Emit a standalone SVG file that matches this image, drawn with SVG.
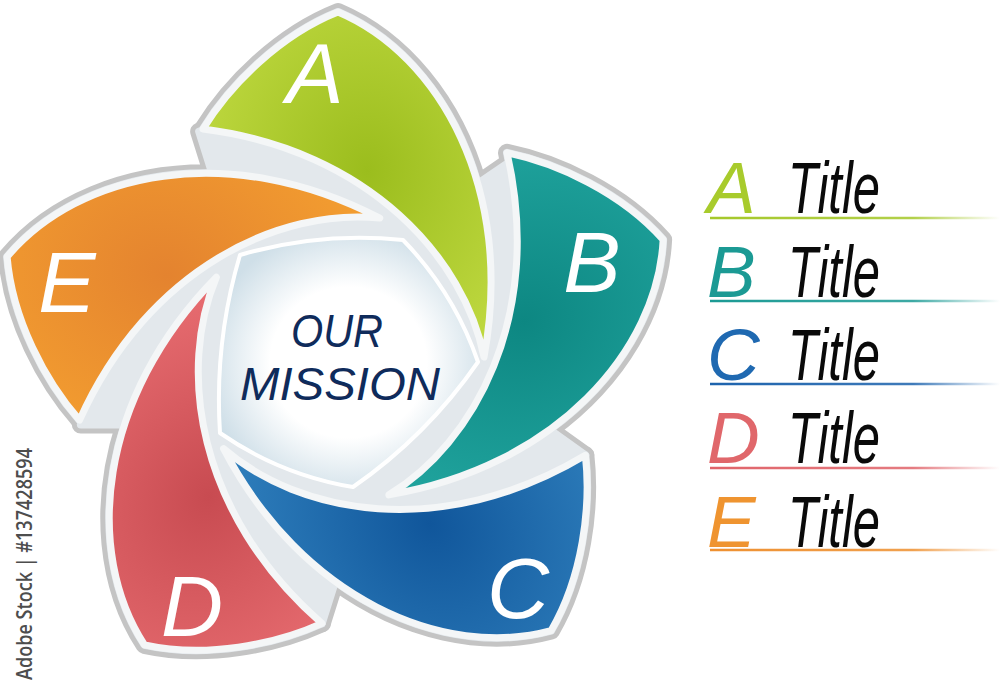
<svg xmlns="http://www.w3.org/2000/svg" width="1000" height="683" viewBox="0 0 1000 683">
<style>
.scr{font-family:"Liberation Sans","Noto Sans",sans-serif;font-style:italic;}
.pl{fill:#ffffff;font-size:86px;text-anchor:middle;}
.lg{font-size:73px;}
.tt{fill:#0a0a0a;}
.hullg{fill:#c4c4c4;stroke:#c4c4c4;stroke-width:18;stroke-linejoin:round;}
.hulll{fill:#e3e8ec;stroke:#e3e8ec;stroke-width:8;stroke-linejoin:round;}
.pet{stroke:#f4f6f7;stroke-width:7;stroke-linejoin:round;}
.ul{stroke-width:2.5;fill:none;}
</style>
<defs>
<path id="petal" d="M484,357 C465,260 370,150 203,129 C230,85 280,35 338,12 C440,55 515,190 484,357 Z"/>
<path id="hull" d="M203,129 C230,85 280,35 338,12 C401.2,38.7 454.1,100.7 477.8,183.8 L514,159 C545.7,324.1 470.4,448.5 384,496 L484,357 C465,260 370,150 203,129 Z"/>
<radialGradient id="gA" cx="0.57" cy="0.46" r="0.6"><stop offset="0" stop-color="#9bbd1d"/><stop offset="1" stop-color="#bdd73e"/></radialGradient>
<radialGradient id="gB" cx="0.57" cy="0.46" r="0.6"><stop offset="0" stop-color="#0d8782"/><stop offset="1" stop-color="#1fa29c"/></radialGradient>
<radialGradient id="gC" cx="0.57" cy="0.46" r="0.6"><stop offset="0" stop-color="#10569b"/><stop offset="1" stop-color="#2c7bb9"/></radialGradient>
<radialGradient id="gD" cx="0.57" cy="0.46" r="0.6"><stop offset="0" stop-color="#c84b51"/><stop offset="1" stop-color="#e56a6e"/></radialGradient>
<radialGradient id="gE" cx="0.57" cy="0.46" r="0.6"><stop offset="0" stop-color="#e4832f"/><stop offset="1" stop-color="#f29c30"/></radialGradient>
<radialGradient id="gc" cx="0.5" cy="0.5" r="0.55"><stop offset="0.55" stop-color="#ffffff"/><stop offset="1" stop-color="#cfdfe8"/></radialGradient>
<linearGradient id="uA" gradientUnits="userSpaceOnUse" x1="710" y1="0" x2="1000" y2="0"><stop offset="0" stop-color="#a5c82a"/><stop offset="0.7" stop-color="#a5c82a" stop-opacity="0.85"/><stop offset="1" stop-color="#a5c82a" stop-opacity="0"/></linearGradient>
<linearGradient id="uB" gradientUnits="userSpaceOnUse" x1="710" y1="0" x2="1000" y2="0"><stop offset="0" stop-color="#1b9a94"/><stop offset="0.7" stop-color="#1b9a94" stop-opacity="0.85"/><stop offset="1" stop-color="#1b9a94" stop-opacity="0"/></linearGradient>
<linearGradient id="uC" gradientUnits="userSpaceOnUse" x1="710" y1="0" x2="1000" y2="0"><stop offset="0" stop-color="#1d63ad"/><stop offset="0.7" stop-color="#1d63ad" stop-opacity="0.85"/><stop offset="1" stop-color="#1d63ad" stop-opacity="0"/></linearGradient>
<linearGradient id="uD" gradientUnits="userSpaceOnUse" x1="710" y1="0" x2="1000" y2="0"><stop offset="0" stop-color="#e0646a"/><stop offset="0.7" stop-color="#e0646a" stop-opacity="0.85"/><stop offset="1" stop-color="#e0646a" stop-opacity="0"/></linearGradient>
<linearGradient id="uE" gradientUnits="userSpaceOnUse" x1="710" y1="0" x2="1000" y2="0"><stop offset="0" stop-color="#ee9030"/><stop offset="0.7" stop-color="#ee9030" stop-opacity="0.85"/><stop offset="1" stop-color="#ee9030" stop-opacity="0"/></linearGradient>
</defs>
<rect width="1000" height="683" fill="#ffffff"/>

<g id="outline">
<use href="#hull" class="hullg"/>
<use href="#hull" class="hullg" transform="rotate(70 338 358)"/>
<use href="#hull" class="hullg" transform="rotate(142 338 358)"/>
<use href="#hull" class="hullg" transform="rotate(214 338 358)"/>
<use href="#hull" class="hullg" transform="rotate(287 338 358)"/>
<use href="#hull" class="hulll"/>
<use href="#hull" class="hulll" transform="rotate(70 338 358)"/>
<use href="#hull" class="hulll" transform="rotate(142 338 358)"/>
<use href="#hull" class="hulll" transform="rotate(214 338 358)"/>
<use href="#hull" class="hulll" transform="rotate(287 338 358)"/>
<circle cx="338" cy="358" r="170" fill="#e3e8ec"/>
</g>

<g id="center">
<path d="M240,255 Q320,231.6 403,240 Q454.1,292.6 478,362 Q426.8,435.8 353,487 Q280.5,474.8 220,433 Q214.1,342.2 240,255 Z" fill="url(#gc)" stroke="#ffffff" stroke-width="4" stroke-linejoin="round"/>
<text class="scr" x="337" y="347" font-size="47" fill="#0f2b5b" text-anchor="middle" textLength="92" lengthAdjust="spacingAndGlyphs">OUR</text>
<text class="scr" x="340" y="400" font-size="47" fill="#0f2b5b" text-anchor="middle" textLength="200" lengthAdjust="spacingAndGlyphs">MISSION</text>
</g>

<g id="petal-a">
<use href="#petal" class="pet" fill="url(#gA)"/>
<text class="scr pl" x="315" y="103">A</text>
</g>
<g id="petal-b">
<use href="#petal" class="pet" fill="url(#gB)" transform="rotate(70 338 358)"/>
<text class="scr pl" x="592" y="292">B</text>
</g>
<g id="petal-c">
<use href="#petal" class="pet" fill="url(#gC)" transform="rotate(142 338 358)"/>
<text class="scr pl" x="518" y="618">C</text>
</g>
<g id="petal-d">
<use href="#petal" class="pet" fill="url(#gD)" transform="rotate(214 338 358)"/>
<text class="scr pl" x="192" y="636">D</text>
</g>
<g id="petal-e">
<use href="#petal" class="pet" fill="url(#gE)" transform="rotate(287 338 358)"/>
<text class="scr pl" x="67" y="312">E</text>
</g>

<g id="legend-a">
<text class="scr lg" x="707" y="213" fill="#a8cb2c">A</text>
<text class="scr lg tt" x="788" y="213" textLength="92" lengthAdjust="spacingAndGlyphs">Title</text>
<line class="ul" x1="710" y1="218" x2="1000" y2="218" stroke="url(#uA)"/>
</g>
<g id="legend-b">
<text class="scr lg" x="707" y="297" fill="#1b9a94">B</text>
<text class="scr lg tt" x="788" y="297" textLength="92" lengthAdjust="spacingAndGlyphs">Title</text>
<line class="ul" x1="710" y1="301" x2="1000" y2="301" stroke="url(#uB)"/>
</g>
<g id="legend-c">
<text class="scr lg" x="707" y="380" fill="#1f69b1">C</text>
<text class="scr lg tt" x="788" y="380" textLength="92" lengthAdjust="spacingAndGlyphs">Title</text>
<line class="ul" x1="710" y1="384" x2="1000" y2="384" stroke="url(#uC)"/>
</g>
<g id="legend-d">
<text class="scr lg" x="707" y="463" fill="#e0676b">D</text>
<text class="scr lg tt" x="788" y="463" textLength="92" lengthAdjust="spacingAndGlyphs">Title</text>
<line class="ul" x1="710" y1="468" x2="1000" y2="468" stroke="url(#uD)"/>
</g>
<g id="legend-e">
<text class="scr lg" x="707" y="547" fill="#ef9430">E</text>
<text class="scr lg tt" x="788" y="547" textLength="92" lengthAdjust="spacingAndGlyphs">Title</text>
<line class="ul" x1="710" y1="550" x2="1000" y2="550" stroke="url(#uE)"/>
</g>

<text transform="translate(32,680) rotate(-90)" font-family="'Open Sans','Noto Sans',sans-serif" font-weight="600" font-size="21" fill="#4d4d4d" textLength="232" lengthAdjust="spacingAndGlyphs">Adobe Stock | #137428594</text>
</svg>
